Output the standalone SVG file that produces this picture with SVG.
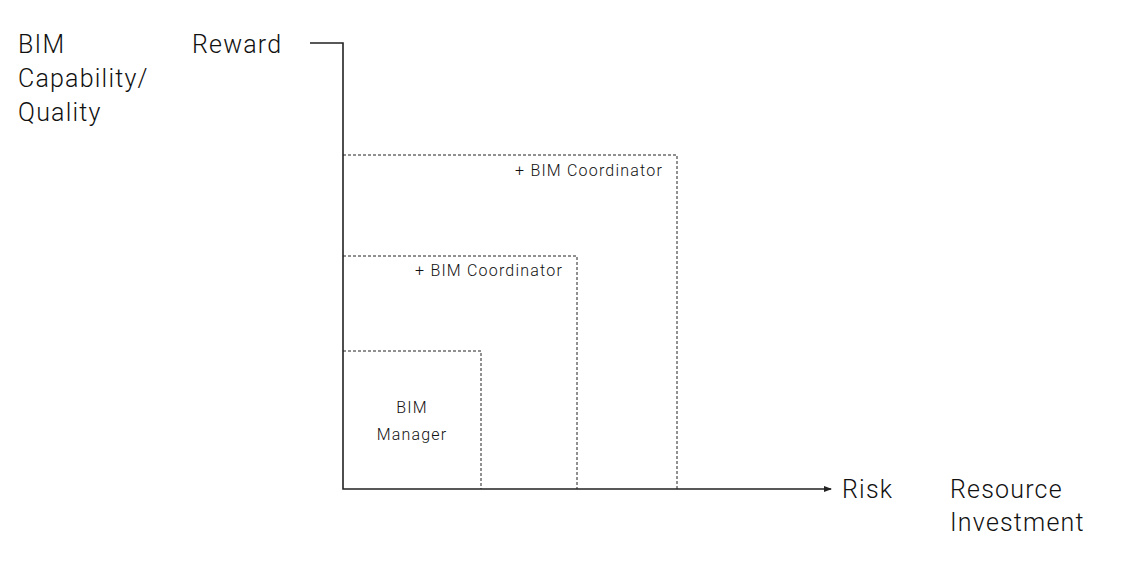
<svg xmlns="http://www.w3.org/2000/svg" width="1137" height="564" viewBox="0 0 1137 564">
<style>
.big{font-family:Roboto,"Liberation Sans",sans-serif;font-weight:300;font-size:25px;letter-spacing:1.2px;fill:#111}
.sm{font-family:Roboto,"Liberation Sans",sans-serif;font-weight:300;font-size:16px;letter-spacing:1.2px;fill:#111}
.box{fill:none;stroke:#222;stroke-width:1;stroke-dasharray:3 2}
.axis{fill:none;stroke:#222;stroke-width:1.6}
</style>
<defs><marker id="ah" markerWidth="8" markerHeight="6" refX="7" refY="3" orient="auto" markerUnits="userSpaceOnUse"><path d="M0,0 L8,3 L0,6 z" fill="#222"/></marker></defs>
<rect width="1137" height="564" fill="#fff"/>
<g id="labels">
<text class="big" x="18" y="53">BIM</text>
<text class="big" x="18" y="87">Capability/</text>
<text class="big" x="18" y="121">Quality</text>
<text class="big" x="192" y="53">Reward</text>
<text class="big" x="842" y="498">Risk</text>
<text class="big" x="950" y="498">Resource</text>
<text class="big" x="950" y="531">Investment</text>
</g>
<g id="node-manager"><path class="box" d="M343,351 H481 V489"/><text class="sm" x="412" y="413" text-anchor="middle">BIM</text><text class="sm" x="412" y="440" text-anchor="middle">Manager</text></g>
<g id="node-coord1"><path class="box" d="M343,256 H577 V489"/><text class="sm" x="563" y="276" text-anchor="end">+ BIM Coordinator</text></g>
<g id="node-coord2"><path class="box" d="M343,155 H677 V489"/><text class="sm" x="663" y="176" text-anchor="end">+ BIM Coordinator</text></g>
<g id="connectors">
<path class="axis" d="M310,43 H343 V489 H831" marker-end="url(#ah)"/>
</g>
</svg>
